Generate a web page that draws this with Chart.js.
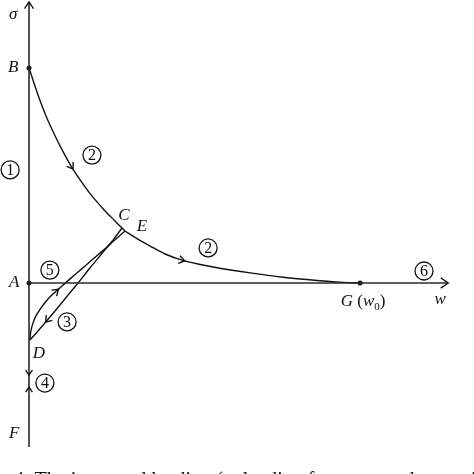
<!DOCTYPE html>
<html>
<head>
<meta charset="utf-8">
<script src="https://cdn.jsdelivr.net/npm/chart.js@4.4.1/dist/chart.umd.min.js"></script>
<style>
  html, body { margin: 0; padding: 0; background: #fff; }
  #wrap { width: 474px; height: 474px; position: relative; }
</style>
</head>
<body>
<div id="wrap"><canvas id="diagram"></canvas></div>
<script>
// w in units of w0, sigma in units of sigma at B
var curveBC = [
  [0, 1.000], [0.018, 0.916], [0.036, 0.837], [0.054, 0.767], [0.076, 0.693],
  [0.100, 0.619], [0.127, 0.544], [0.157, 0.474], [0.190, 0.405], [0.227, 0.340],
  [0.260, 0.288], [0.278, 0.260], [0.290, 0.242]
];
var curveEG = [
  [0.290, 0.242], [0.320, 0.212], [0.366, 0.172], [0.411, 0.135], [0.465, 0.105],
  [0.517, 0.086], [0.568, 0.071], [0.668, 0.047], [0.767, 0.027], [0.870, 0.012],
  [0.940, 0.004], [1.000, 0]
];
var unloadCD = [
  [0.281, 0.256], [0.254, 0.200], [0.218, 0.133], [0.184, 0.070], [0.148, 0],
  [0.112, -0.067], [0.076, -0.135], [0.039, -0.202], [0.003, -0.265]
];
var reloadDE = [
  [0.003, -0.265], [0.005, -0.228], [0.011, -0.191], [0.021, -0.153], [0.035, -0.119],
  [0.051, -0.086], [0.069, -0.056], [0.091, -0.026], [0.112, 0.003], [0.136, 0.035],
  [0.160, 0.067], [0.184, 0.099], [0.208, 0.131], [0.233, 0.164], [0.254, 0.193],
  [0.290, 0.242]
];
var markedPoints = [[0, 1.0], [0, 0], [1.0, 0]]; // B, A, G
var sigmaAxis = [[0, -0.763], [0, 1.307]];
var wAxis = [[0, 0], [1.266, 0]];

var letterLabels = [
  { t: 'σ', x: -0.048, y: 1.247 },
  { t: 'B', x: -0.048, y: 1.0 },
  { t: 'C', x: 0.287, y: 0.316 },
  { t: 'E', x: 0.341, y: 0.265 },
  { t: 'A', x: -0.045, y: 0 },
  { t: 'D', x: 0.030, y: -0.326 },
  { t: 'F', x: -0.045, y: -0.698 },
  { t: 'w', x: 1.242, y: -0.079 },
  { t: 'G (w', sub: '0', after: ')', x: 1.009, y: -0.088 }
];
var stageLabels = [
  { n: '1', x: -0.057, y: 0.526 },
  { n: '2', x: 0.190, y: 0.595 },
  { n: '2', x: 0.541, y: 0.163 },
  { n: '3', x: 0.115, y: -0.181 },
  { n: '4', x: 0.048, y: -0.465 },
  { n: '5', x: 0.063, y: 0.060 },
  { n: '6', x: 1.193, y: 0.056 }
];
// arrows along a path: segment index + fraction
var pathArrows = [
  { path: curveBC, seg: 6, f: 0.2 },
  { path: curveEG, seg: 4, f: 0.1 },
  { path: unloadCD, seg: 6, f: 0.7 },
  { path: reloadDE, seg: 6, f: 0.9 }
];
var axisArrows = [
  { x: 0, y: -0.428, dir: 'down' },
  { x: 0, y: -0.484, dir: 'up' }
];

function pts(a) { return a.map(function (p) { return { x: p[0], y: p[1] }; }); }

var serif = '"Liberation Serif", "DejaVu Serif", serif';

function chevron(ctx, x, y, ang, len) {
  var s = 0.6;
  ctx.beginPath();
  ctx.moveTo(x - len * Math.cos(ang - s), y - len * Math.sin(ang - s));
  ctx.lineTo(x, y);
  ctx.lineTo(x - len * Math.cos(ang + s), y - len * Math.sin(ang + s));
  ctx.stroke();
}

var decorations = {
  id: 'decorations',
  afterDatasetsDraw: function (chart) {
    var ctx = chart.ctx, sx = chart.scales.x, sy = chart.scales.y;
    ctx.save();
    ctx.strokeStyle = '#111';
    ctx.lineWidth = 1.4;

    // axis arrowheads
    chevron(ctx, sx.getPixelForValue(sigmaAxis[1][0]), sy.getPixelForValue(sigmaAxis[1][1]), -Math.PI / 2, 8);
    chevron(ctx, sx.getPixelForValue(wAxis[1][0]), sy.getPixelForValue(wAxis[1][1]), 0, 9);
    axisArrows.forEach(function (a) {
      chevron(ctx, sx.getPixelForValue(a.x), sy.getPixelForValue(a.y), a.dir === 'down' ? Math.PI / 2 : -Math.PI / 2, 6);
    });

    // arrows on paths
    pathArrows.forEach(function (a) {
      var p0 = a.path[a.seg], p1 = a.path[a.seg + 1];
      var x0 = sx.getPixelForValue(p0[0]), y0 = sy.getPixelForValue(p0[1]);
      var x1 = sx.getPixelForValue(p1[0]), y1 = sy.getPixelForValue(p1[1]);
      var x = x0 + (x1 - x0) * a.f, y = y0 + (y1 - y0) * a.f;
      chevron(ctx, x, y, Math.atan2(y1 - y0, x1 - x0), 7);
    });

    // letter labels
    ctx.fillStyle = '#111';
    ctx.textBaseline = 'middle';
    var big = 'italic 17px ' + serif, up = '17px ' + serif, small = '11px ' + serif;
    letterLabels.forEach(function (l) {
      var x = sx.getPixelForValue(l.x), y = sy.getPixelForValue(l.y);
      if (l.sub) {
        ctx.font = big;
        var wg = ctx.measureText('G').width, ww = ctx.measureText('w').width;
        ctx.font = up;
        var wp = ctx.measureText(' (').width, wa = ctx.measureText(l.after).width;
        ctx.font = small;
        var ws = ctx.measureText(l.sub).width;
        var left = x - (wg + wp + ww + ws + wa) / 2;
        ctx.textAlign = 'left';
        ctx.font = big; ctx.fillText('G', left, y);
        ctx.font = up; ctx.fillText(' (', left + wg, y);
        ctx.font = big; ctx.fillText('w', left + wg + wp, y);
        ctx.font = small; ctx.fillText(l.sub, left + wg + wp + ww, y + 5);
        ctx.font = up; ctx.fillText(l.after, left + wg + wp + ww + ws, y);
      } else {
        ctx.font = big;
        ctx.textAlign = 'center';
        ctx.fillText(l.t, x, y);
      }
    });

    // circled stage numbers
    ctx.lineWidth = 1.3;
    stageLabels.forEach(function (s) {
      var x = sx.getPixelForValue(s.x), y = sy.getPixelForValue(s.y);
      ctx.beginPath();
      ctx.arc(x, y, 9, 0, Math.PI * 2);
      ctx.stroke();
      ctx.font = '16px ' + serif;
      ctx.textAlign = 'center';
      ctx.fillText(s.n, x, y + 1);
    });

    // cut-off caption at the bottom edge
    ctx.font = '20px ' + serif;
    ctx.textAlign = 'left';
    ctx.textBaseline = 'alphabetic';
    ctx.fillText('4: The increased loading (unloading from one and more ti', 14, 486);
    ctx.restore();
  }
};

var lineStyle = { showLine: true, pointRadius: 0, borderColor: '#111', borderWidth: 1.4, fill: false };

new Chart(document.getElementById('diagram'), {
  type: 'scatter',
  data: {
    datasets: [
      Object.assign({ data: pts(sigmaAxis) }, lineStyle, { borderColor: '#2a2a2a', borderWidth: 1.6, tension: 0 }),
      Object.assign({ data: pts(wAxis) }, lineStyle, { borderColor: '#2a2a2a', borderWidth: 1.6, tension: 0 }),
      Object.assign({ data: pts(curveBC), cubicInterpolationMode: 'monotone' }, lineStyle),
      Object.assign({ data: pts(curveEG), cubicInterpolationMode: 'monotone' }, lineStyle),
      Object.assign({ data: pts(unloadCD), tension: 0.3 }, lineStyle),
      Object.assign({ data: pts(reloadDE), tension: 0.3 }, lineStyle),
      { data: pts(markedPoints), showLine: false, pointRadius: 2.5, pointBackgroundColor: '#111', pointBorderWidth: 0 }
    ]
  },
  options: {
    responsive: true,
    maintainAspectRatio: false,
    animation: false,
    layout: { padding: 0, autoPadding: false },
    plugins: { legend: { display: false }, tooltip: { enabled: false } },
    scales: {
      x: { type: 'linear', display: false, min: -0.0876, max: 1.344 },
      y: { type: 'linear', display: false, min: -0.888, max: 1.316 }
    }
  },
  plugins: [decorations]
});
</script>
</body>
</html>
